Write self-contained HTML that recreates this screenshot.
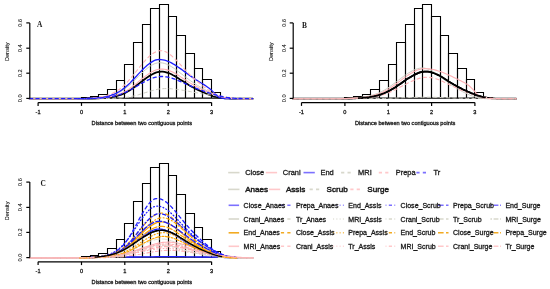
<!DOCTYPE html>
<html><head><meta charset="utf-8"><style>
html,body{margin:0;padding:0;background:#fff;}
svg{display:block;}
text{font-family:"Liberation Sans",Arial,sans-serif;fill:#1a1a1a;stroke:#1a1a1a;stroke-width:0.3px;}
.tk{font-size:5.63px;}
.rt{stroke-width:0.1px;}
.let{font-family:"Liberation Serif","Times New Roman",serif;font-weight:bold;font-size:7.4px;stroke:none;}
.t1{font-size:7.45px;}
.t2{font-size:8.1px;stroke-width:0.45px;}
.t3{font-size:7.03px;}
path,line{fill:none;stroke-linecap:round;}
.bar{fill:none;stroke:#000;stroke-width:1.1;stroke-linecap:butt;}
.ax{stroke:#000;stroke-width:1.2;stroke-linecap:butt;}
.bk{stroke:#000;stroke-width:1.75;}
.bk.thin{stroke-width:1.4;}
.bl{stroke:#1f1fff;stroke-width:1.3;}
.gy{stroke:#cdcdc2;stroke-width:1.0;}
.pk{stroke:#ffb0b4;stroke-width:1.1;}
.or{stroke:#ffa500;stroke-width:1.2;}
.gy.lt{stroke:#dadad0;stroke-width:0.9;}
.lg{stroke-linecap:butt;stroke-width:1.6;}
.lg.bl{stroke:#7c70ff;}
.lg.gy{stroke:#d8d8cc;}
.lg.pk{stroke:#ffc8ca;}
.lg.or{stroke:#f2aa22;}
.l2{stroke-dasharray:3.2 3.2;}
.l3{stroke-dasharray:0.8 2.4;}
.l4{stroke-dasharray:0.8 2.4 3.2 2.4;}
.l5{stroke-dasharray:5.6 2.4;}
.l6{stroke-dasharray:1.6 1.6 4.8 1.6;}
</style></head>
<body><svg width="550" height="289" viewBox="0 0 550 289">
<path d="M81.5 98.1V97.5H90.5V98.1" class="bar"/>
<path d="M90.5 98.1V96.5H98.5V98.1" class="bar"/>
<path d="M98.5 98.1V94.5H107.5V98.1" class="bar"/>
<path d="M107.5 98.1V89.5H116.5V98.1" class="bar"/>
<path d="M116.5 98.1V80.5H124.5V98.1" class="bar"/>
<path d="M124.5 98.1V64.5H133.5V98.1" class="bar"/>
<path d="M133.5 98.1V42.5H142.5V98.1" class="bar"/>
<path d="M142.5 98.1V24.5H150.5V98.1" class="bar"/>
<path d="M150.5 98.1V8.5H159.5V98.1" class="bar"/>
<path d="M159.5 98.1V4.5H168.5V98.1" class="bar"/>
<path d="M168.5 98.1V16.5H176.5V98.1" class="bar"/>
<path d="M176.5 98.1V35.5H185.5V98.1" class="bar"/>
<path d="M185.5 98.1V53.5H194.5V98.1" class="bar"/>
<path d="M194.5 98.1V68.5H202.5V98.1" class="bar"/>
<path d="M202.5 98.1V79.5H211.5V98.1" class="bar"/>
<path d="M211.5 98.1V92.5H220.5V98.1" class="bar"/>
<path d="M220.5 98.1V97.5H228.5V98.1" class="bar"/>
<line x1="90.5" y1="98.1" x2="228.5" y2="98.1" class="bar"/>
<path d="M29.5 98.7L31.2 98.7L32.9 98.7L34.7 98.7L36.4 98.7L38.1 98.7L39.9 98.7L41.6 98.7L43.3 98.7L45.1 98.7L46.8 98.7L48.5 98.7L50.2 98.7L52 98.7L53.7 98.7L55.4 98.7L57.2 98.7L58.9 98.7L60.6 98.7L62.4 98.7L64.1 98.7L65.8 98.7L67.6 98.7L69.3 98.7L71 98.7L72.7 98.7L74.5 98.7L76.2 98.7L77.9 98.7L79.7 98.7L81.4 98.7L83.1 98.7L84.9 98.7L86.6 98.7L88.3 98.6L90.1 98.6L91.8 98.6L93.5 98.5L95.2 98.5L97 98.4L98.7 98.3L100.4 98.2L102.2 98.1L103.9 98L105.6 97.8L107.4 97.7L109.1 97.4L110.8 97.2L112.6 96.9L114.3 96.6L116 96.2L117.7 95.7L119.5 95.2L121.2 94.6L122.9 93.9L124.7 93.1L126.4 92.3L128.1 91.3L129.9 90.3L131.6 89.1L133.3 87.9L135 86.7L136.8 85.3L138.5 84L140.2 82.6L142 81.3L143.7 80L145.4 78.7L147.2 77.4L148.9 76.3L150.6 75.2L152.4 74.2L154.1 73.4L155.8 72.7L157.5 72.2L159.3 71.8L161 71.7L162.7 71.7L164.5 71.9L166.2 72.3L167.9 72.8L169.7 73.5L171.4 74.3L173.1 75.2L174.9 76.1L176.6 77.2L178.3 78.3L180 79.4L181.8 80.5L183.5 81.6L185.2 82.7L187 83.8L188.7 84.9L190.4 85.9L192.2 86.9L193.9 87.8L195.6 88.7L197.4 89.6L199.1 90.4L200.8 91.2L202.5 92L204.3 92.8L206 93.5L207.7 94.2L209.5 94.9L211.2 95.5L212.9 96.1L214.7 96.6L216.4 97L218.1 97.4L219.9 97.7L221.6 97.9L223.3 98.1L225 98.3L226.8 98.4L228.5 98.5L230.2 98.6L232 98.6L233.7 98.6L235.4 98.7L237.2 98.7L238.9 98.7L240.6 98.7L242.3 98.7L244.1 98.7L245.8 98.7L247.5 98.7L249.3 98.7L251 98.7L252.7 98.7" class="bk"/>
<path d="M29.5 98.7L31.2 98.7L32.9 98.7L34.7 98.7L36.4 98.7L38.1 98.7L39.9 98.7L41.6 98.7L43.3 98.7L45.1 98.7L46.8 98.7L48.5 98.7L50.2 98.7L52 98.7L53.7 98.7L55.4 98.7L57.2 98.7L58.9 98.7L60.6 98.7L62.4 98.7L64.1 98.7L65.8 98.7L67.6 98.7L69.3 98.7L71 98.7L72.7 98.7L74.5 98.7L76.2 98.7L77.9 98.7L79.7 98.7L81.4 98.7L83.1 98.6L84.9 98.6L86.6 98.5L88.3 98.5L90.1 98.4L91.8 98.3L93.5 98.3L95.2 98.1L97 98L98.7 97.9L100.4 97.7L102.2 97.5L103.9 97.2L105.6 96.9L107.4 96.6L109.1 96.2L110.8 95.7L112.6 95.2L114.3 94.6L116 93.9L117.7 93.2L119.5 92.3L121.2 91.3L122.9 90.2L124.7 89L126.4 87.7L128.1 86.3L129.9 84.8L131.6 83.2L133.3 81.5L135 79.8L136.8 78.1L138.5 76.3L140.2 74.6L142 73L143.7 71.3L145.4 69.8L147.2 68.4L148.9 67L150.6 65.8L152.4 64.8L154.1 63.9L155.8 63.3L157.5 62.9L159.3 62.7L161 62.8L162.7 63L164.5 63.4L166.2 64L167.9 64.7L169.7 65.6L171.4 66.6L173.1 67.7L174.9 68.9L176.6 70.1L178.3 71.4L180 72.8L181.8 74.1L183.5 75.5L185.2 76.8L187 78.1L188.7 79.4L190.4 80.7L192.2 81.9L193.9 83L195.6 84.2L197.4 85.3L199.1 86.3L200.8 87.3L202.5 88.3L204.3 89.3L206 90.2L207.7 91.1L209.5 92L211.2 92.8L212.9 93.6L214.7 94.4L216.4 95.1L218.1 95.7L219.9 96.2L221.6 96.7L223.3 97.1L225 97.5L226.8 97.8L228.5 98L230.2 98.2L232 98.3L233.7 98.4L235.4 98.5L237.2 98.6L238.9 98.6L240.6 98.6L242.3 98.7L244.1 98.7L245.8 98.7L247.5 98.7L249.3 98.7L251 98.7L252.7 98.7" class="gy"/>
<path d="M29.5 98.7L31.2 98.7L32.9 98.7L34.7 98.7L36.4 98.7L38.1 98.7L39.9 98.7L41.6 98.7L43.3 98.7L45.1 98.7L46.8 98.7L48.5 98.7L50.2 98.7L52 98.7L53.7 98.7L55.4 98.7L57.2 98.7L58.9 98.7L60.6 98.7L62.4 98.7L64.1 98.7L65.8 98.7L67.6 98.7L69.3 98.7L71 98.7L72.7 98.7L74.5 98.7L76.2 98.7L77.9 98.7L79.7 98.7L81.4 98.7L83.1 98.7L84.9 98.6L86.6 98.6L88.3 98.6L90.1 98.5L91.8 98.5L93.5 98.4L95.2 98.3L97 98.2L98.7 98.1L100.4 98L102.2 97.8L103.9 97.7L105.6 97.5L107.4 97.2L109.1 96.9L110.8 96.6L112.6 96.3L114.3 95.8L116 95.3L117.7 94.8L119.5 94.1L121.2 93.4L122.9 92.6L124.7 91.7L126.4 90.7L128.1 89.6L129.9 88.5L131.6 87.2L133.3 85.9L135 84.5L136.8 83.1L138.5 81.7L140.2 80.3L142 78.9L143.7 77.5L145.4 76.1L147.2 74.9L148.9 73.7L150.6 72.6L152.4 71.6L154.1 70.7L155.8 70L157.5 69.5L159.3 69.2L161 69L162.7 69.1L164.5 69.3L166.2 69.6L167.9 70.1L169.7 70.7L171.4 71.5L173.1 72.3L174.9 73.3L176.6 74.3L178.3 75.3L180 76.4L181.8 77.6L183.5 78.7L185.2 79.8L187 81L188.7 82.1L190.4 83.1L192.2 84.2L193.9 85.2L195.6 86.1L197.4 87.1L199.1 88L200.8 88.9L202.5 89.7L204.3 90.5L206 91.3L207.7 92.1L209.5 92.8L211.2 93.6L212.9 94.3L214.7 94.9L216.4 95.5L218.1 96.1L219.9 96.5L221.6 97L223.3 97.3L225 97.6L226.8 97.9L228.5 98.1L230.2 98.2L232 98.4L233.7 98.5L235.4 98.5L237.2 98.6L238.9 98.6L240.6 98.7L242.3 98.7L244.1 98.7L245.8 98.7L247.5 98.7L249.3 98.7L251 98.7L252.7 98.7" class="pk"/>
<path d="M77.9 98.7L79.7 98.7L81.4 98.6L83.1 98.6L84.9 98.6L86.6 98.5L88.3 98.5L90.1 98.4L91.8 98.3L93.5 98.2L95.2 98.1L97 97.9L98.7 97.7L100.4 97.5L102.2 97.3L103.9 97L105.6 96.7L107.4 96.3L109.1 95.8L110.8 95.3L112.6 94.7L114.3 94.1L116 93.3L117.7 92.4L119.5 91.5L121.2 90.4L122.9 89.1L124.7 87.8L126.4 86.3L128.1 84.8L129.9 83.1L131.6 81.3L133.3 79.5L135 77.7L136.8 75.8L138.5 73.9L140.2 72.1L142 70.3L143.7 68.5L145.4 66.9L147.2 65.3L148.9 63.9L150.6 62.6L152.4 61.6L154.1 60.7L155.8 60L157.5 59.7L159.3 59.5L161 59.6L162.7 59.8L164.5 60.2L166.2 60.7L167.9 61.3L169.7 62L171.4 62.9L173.1 63.9L174.9 64.9L176.6 66L178.3 67.2L180 68.4L181.8 69.6L183.5 70.9L185.2 72.1L187 73.4L188.7 74.7L190.4 75.9L192.2 77.1L193.9 78.3L195.6 79.5L197.4 80.6L199.1 81.7L200.8 82.8L202.5 83.8L204.3 84.9L206 86L207.7 87.2L209.5 88.5L211.2 89.9L212.9 91.6L214.7 93.5L216.4 95.2L218.1 96.7L219.9 97.6L221.6 98.2L223.3 98.4L225 98.6L226.8 98.6L228.5 98.7L230.2 98.7L232 98.7L233.7 98.7L235.4 98.7L237.2 98.7L238.9 98.7L240.6 98.7" class="bl"/>
<path d="M29.5 98.7L31.2 98.7L32.9 98.7L34.7 98.7L36.4 98.7L38.1 98.7L39.9 98.7L41.6 98.7L43.3 98.7L45.1 98.7L46.8 98.7L48.5 98.7L50.2 98.7L52 98.7L53.7 98.7L55.4 98.7L57.2 98.7L58.9 98.7L60.6 98.7L62.4 98.7L64.1 98.7L65.8 98.7L67.6 98.7L69.3 98.7L71 98.7L72.7 98.7L74.5 98.7L76.2 98.7L77.9 98.7L79.7 98.7L81.4 98.7L83.1 98.7L84.9 98.7L86.6 98.7L88.3 98.7L90.1 98.7L91.8 98.7L93.5 98.7L95.2 98.7L97 98.7L98.7 98.7L100.4 98.7L102.2 98.6L103.9 98.6L105.6 98.6L107.4 98.5L109.1 98.5L110.8 98.5L112.6 98.4L114.3 98.3L116 98.2L117.7 98.1L119.5 98L121.2 97.9L122.9 97.7L124.7 97.5L126.4 97.3L128.1 97.1L129.9 96.8L131.6 96.4L133.3 96.1L135 95.7L136.8 95.2L138.5 94.7L140.2 94.2L142 93.7L143.7 93.2L145.4 92.6L147.2 92.1L148.9 91.5L150.6 91L152.4 90.5L154.1 90.1L155.8 89.7L157.5 89.3L159.3 89L161 88.8L162.7 88.7L164.5 88.6L166.2 88.6L167.9 88.7L169.7 88.7L171.4 88.8L173.1 89L174.9 89.2L176.6 89.4L178.3 89.6L180 89.8L181.8 90.1L183.5 90.4L185.2 90.7L187 91L188.7 91.3L190.4 91.6L192.2 92L193.9 92.3L195.6 92.6L197.4 92.9L199.1 93.2L200.8 93.5L202.5 93.8L204.3 94.1L206 94.4L207.7 94.6L209.5 94.9L211.2 95.1L212.9 95.4L214.7 95.6L216.4 95.8L218.1 96.1L219.9 96.3L221.6 96.5L223.3 96.7L225 96.9L226.8 97.1L228.5 97.3L230.2 97.5L232 97.6L233.7 97.8L235.4 97.9L237.2 98.1L238.9 98.2L240.6 98.3L242.3 98.3L244.1 98.4L245.8 98.5L247.5 98.5L249.3 98.6L251 98.6L252.7 98.6" class="gy l2"/>
<path d="M29.5 98.7L31.2 98.7L32.9 98.7L34.7 98.7L36.4 98.7L38.1 98.7L39.9 98.7L41.6 98.7L43.3 98.7L45.1 98.7L46.8 98.7L48.5 98.7L50.2 98.7L52 98.7L53.7 98.7L55.4 98.7L57.2 98.7L58.9 98.7L60.6 98.7L62.4 98.7L64.1 98.7L65.8 98.7L67.6 98.7L69.3 98.7L71 98.7L72.7 98.7L74.5 98.7L76.2 98.7L77.9 98.6L79.7 98.6L81.4 98.6L83.1 98.5L84.9 98.4L86.6 98.4L88.3 98.3L90.1 98.2L91.8 98L93.5 97.9L95.2 97.7L97 97.5L98.7 97.2L100.4 96.9L102.2 96.6L103.9 96.2L105.6 95.8L107.4 95.3L109.1 94.7L110.8 94.1L112.6 93.3L114.3 92.4L116 91.5L117.7 90.4L119.5 89.2L121.2 87.8L122.9 86.4L124.7 84.8L126.4 83L128.1 81.2L129.9 79.2L131.6 77.2L133.3 75L135 72.9L136.8 70.7L138.5 68.5L140.2 66.4L142 64.2L143.7 62.2L145.4 60.3L147.2 58.4L148.9 56.7L150.6 55.2L152.4 53.8L154.1 52.7L155.8 51.8L157.5 51.1L159.3 50.8L161 50.7L162.7 50.9L164.5 51.4L166.2 52.1L167.9 53.1L169.7 54.2L171.4 55.6L173.1 57.1L174.9 58.8L176.6 60.5L178.3 62.3L180 64.2L181.8 66.1L183.5 68L185.2 69.9L187 71.7L188.7 73.5L190.4 75.2L192.2 76.9L193.9 78.5L195.6 80.1L197.4 81.6L199.1 83L200.8 84.4L202.5 85.8L204.3 87.1L206 88.4L207.7 89.6L209.5 90.8L211.2 91.9L212.9 93L214.7 93.9L216.4 94.8L218.1 95.5L219.9 96.2L221.6 96.8L223.3 97.2L225 97.6L226.8 97.9L228.5 98.1L230.2 98.3L232 98.4L233.7 98.5L235.4 98.6L237.2 98.6L238.9 98.6L240.6 98.7L242.3 98.7L244.1 98.7L245.8 98.7L247.5 98.7L249.3 98.7L251 98.7L252.7 98.7" class="pk l2"/>
<path d="M29.5 98.7L31.2 98.7L32.9 98.7L34.7 98.7L36.4 98.7L38.1 98.7L39.9 98.7L41.6 98.7L43.3 98.7L45.1 98.7L46.8 98.7L48.5 98.7L50.2 98.7L52 98.7L53.7 98.7L55.4 98.7L57.2 98.7L58.9 98.7L60.6 98.7L62.4 98.7L64.1 98.7L65.8 98.7L67.6 98.7L69.3 98.7L71 98.7L72.7 98.7L74.5 98.7L76.2 98.7L77.9 98.7L79.7 98.7L81.4 98.6L83.1 98.6L84.9 98.6L86.6 98.6L88.3 98.5L90.1 98.5L91.8 98.4L93.5 98.4L95.2 98.3L97 98.2L98.7 98.1L100.4 98L102.2 97.8L103.9 97.6L105.6 97.5L107.4 97.2L109.1 97L110.8 96.7L112.6 96.4L114.3 96L116 95.6L117.7 95.1L119.5 94.6L121.2 94L122.9 93.3L124.7 92.6L126.4 91.9L128.1 91L129.9 90.1L131.6 89.2L133.3 88.2L135 87.3L136.8 86.2L138.5 85.2L140.2 84.2L142 83.2L143.7 82.3L145.4 81.4L147.2 80.5L148.9 79.7L150.6 78.9L152.4 78.2L154.1 77.6L155.8 77.2L157.5 76.8L159.3 76.6L161 76.5L162.7 76.5L164.5 76.6L166.2 76.9L167.9 77.2L169.7 77.6L171.4 78L173.1 78.6L174.9 79.2L176.6 79.8L178.3 80.6L180 81.3L181.8 82.1L183.5 82.8L185.2 83.6L187 84.4L188.7 85.2L190.4 85.9L192.2 86.7L193.9 87.4L195.6 88.1L197.4 88.8L199.1 89.5L200.8 90.1L202.5 90.7L204.3 91.3L206 91.9L207.7 92.5L209.5 93L211.2 93.6L212.9 94.1L214.7 94.6L216.4 95.1L218.1 95.5L219.9 96L221.6 96.4L223.3 96.8L225 97.1L226.8 97.4L228.5 97.6L230.2 97.8L232 98L233.7 98.2L235.4 98.3L237.2 98.4L238.9 98.5L240.6 98.5L242.3 98.6L244.1 98.6L245.8 98.6L247.5 98.7L249.3 98.7L251 98.7L252.7 98.7" class="bl l2"/>
<line x1="29.8" y1="98.4" x2="29.8" y2="22.9" class="ax"/>
<line x1="26.3" y1="98.4" x2="29.8" y2="98.4" class="ax"/>
<text transform="translate(22.4 98.4) rotate(-90)" class="tk rt" text-anchor="middle">0.0</text>
<line x1="26.3" y1="73.2" x2="29.8" y2="73.2" class="ax"/>
<text transform="translate(22.4 73.2) rotate(-90)" class="tk rt" text-anchor="middle">0.2</text>
<line x1="26.3" y1="48.2" x2="29.8" y2="48.2" class="ax"/>
<text transform="translate(22.4 48.2) rotate(-90)" class="tk rt" text-anchor="middle">0.4</text>
<line x1="26.3" y1="22.9" x2="29.8" y2="22.9" class="ax"/>
<text transform="translate(22.4 22.9) rotate(-90)" class="tk rt" text-anchor="middle">0.6</text>
<line x1="38.1" y1="102.6" x2="211.6" y2="102.6" class="ax"/>
<line x1="38.1" y1="102.6" x2="38.1" y2="105.9" class="ax"/>
<text x="38.1" y="113.8" class="tk" text-anchor="middle">-1</text>
<line x1="81.5" y1="102.6" x2="81.5" y2="105.9" class="ax"/>
<text x="81.5" y="113.8" class="tk" text-anchor="middle">0</text>
<line x1="124.8" y1="102.6" x2="124.8" y2="105.9" class="ax"/>
<text x="124.8" y="113.8" class="tk" text-anchor="middle">1</text>
<line x1="168.2" y1="102.6" x2="168.2" y2="105.9" class="ax"/>
<text x="168.2" y="113.8" class="tk" text-anchor="middle">2</text>
<line x1="211.6" y1="102.6" x2="211.6" y2="105.9" class="ax"/>
<text x="211.6" y="113.8" class="tk" text-anchor="middle">3</text>
<text x="141.8" y="125" class="tk" text-anchor="middle">Distance between two contiguous points</text>
<text transform="translate(9.3 51.7) rotate(-90)" class="tk rt" text-anchor="middle">Density</text>
<text x="37" y="26.8" class="let">A</text>
<path d="M344.5 98.1V97.5H353.5V98.1" class="bar"/>
<path d="M353.5 98.1V96.5H362.5V98.1" class="bar"/>
<path d="M362.5 98.1V94.5H370.5V98.1" class="bar"/>
<path d="M370.5 98.1V89.5H379.5V98.1" class="bar"/>
<path d="M379.5 98.1V80.5H388.5V98.1" class="bar"/>
<path d="M388.5 98.1V64.5H396.5V98.1" class="bar"/>
<path d="M396.5 98.1V42.5H405.5V98.1" class="bar"/>
<path d="M405.5 98.1V24.5H414.5V98.1" class="bar"/>
<path d="M414.5 98.1V8.5H422.5V98.1" class="bar"/>
<path d="M422.5 98.1V4.5H431.5V98.1" class="bar"/>
<path d="M431.5 98.1V16.5H440.5V98.1" class="bar"/>
<path d="M440.5 98.1V35.5H448.5V98.1" class="bar"/>
<path d="M448.5 98.1V53.5H457.5V98.1" class="bar"/>
<path d="M457.5 98.1V68.5H466.5V98.1" class="bar"/>
<path d="M466.5 98.1V79.5H474.5V98.1" class="bar"/>
<path d="M474.5 98.1V92.5H483.5V98.1" class="bar"/>
<path d="M483.5 98.1V97.5H492.5V98.1" class="bar"/>
<line x1="353.5" y1="98.1" x2="492.5" y2="98.1" class="bar"/>
<path d="M292.9 98.7L294.6 98.7L296.3 98.7L298.1 98.7L299.8 98.7L301.5 98.7L303.3 98.7L305 98.7L306.7 98.7L308.5 98.7L310.2 98.7L311.9 98.7L313.6 98.7L315.4 98.7L317.1 98.7L318.8 98.7L320.6 98.7L322.3 98.7L324 98.7L325.8 98.7L327.5 98.7L329.2 98.7L331 98.7L332.7 98.7L334.4 98.7L336.1 98.7L337.9 98.7L339.6 98.7L341.3 98.7L343.1 98.6L344.8 98.6L346.5 98.6L348.3 98.5L350 98.5L351.7 98.5L353.5 98.4L355.2 98.3L356.9 98.2L358.6 98.1L360.4 98L362.1 97.9L363.8 97.7L365.6 97.6L367.3 97.3L369 97.1L370.8 96.8L372.5 96.5L374.2 96.2L376 95.8L377.7 95.4L379.4 94.9L381.1 94.3L382.9 93.7L384.6 93L386.3 92.2L388.1 91.4L389.8 90.5L391.5 89.5L393.3 88.4L395 87.4L396.7 86.2L398.4 85L400.2 83.9L401.9 82.7L403.6 81.5L405.4 80.3L407.1 79.1L408.8 78L410.6 76.9L412.3 75.9L414 75L415.8 74.1L417.5 73.4L419.2 72.7L420.9 72.2L422.7 71.9L424.4 71.6L426.1 71.6L427.9 71.6L429.6 71.9L431.3 72.3L433.1 72.8L434.8 73.5L436.5 74.2L438.3 75.1L440 76L441.7 77L443.4 78.1L445.2 79.2L446.9 80.3L448.6 81.4L450.4 82.4L452.1 83.5L453.8 84.5L455.6 85.5L457.3 86.5L459 87.4L460.8 88.3L462.5 89.2L464.2 90L465.9 90.8L467.7 91.6L469.4 92.3L471.1 93.1L472.9 93.8L474.6 94.4L476.3 95.1L478.1 95.7L479.8 96.2L481.5 96.7L483.3 97.1L485 97.4L486.7 97.7L488.4 98L490.2 98.2L491.9 98.3L493.6 98.4L495.4 98.5L497.1 98.6L498.8 98.6L500.6 98.6L502.3 98.7L504 98.7L505.7 98.7L507.5 98.7L509.2 98.7L510.9 98.7L512.7 98.7L514.4 98.7L516.1 98.7" class="bk"/>
<path d="M292.9 98.7L294.6 98.7L296.3 98.7L298.1 98.7L299.8 98.7L301.5 98.7L303.3 98.7L305 98.7L306.7 98.7L308.5 98.7L310.2 98.7L311.9 98.7L313.6 98.7L315.4 98.7L317.1 98.7L318.8 98.7L320.6 98.7L322.3 98.7L324 98.7L325.8 98.7L327.5 98.7L329.2 98.7L331 98.7L332.7 98.7L334.4 98.7L336.1 98.7L337.9 98.6L339.6 98.6L341.3 98.6L343.1 98.5L344.8 98.5L346.5 98.4L348.3 98.4L350 98.3L351.7 98.2L353.5 98.1L355.2 98L356.9 97.8L358.6 97.6L360.4 97.5L362.1 97.2L363.8 97L365.6 96.7L367.3 96.4L369 96L370.8 95.6L372.5 95.1L374.2 94.6L376 94L377.7 93.4L379.4 92.6L381.1 91.8L382.9 90.9L384.6 90L386.3 88.9L388.1 87.8L389.8 86.6L391.5 85.4L393.3 84.1L395 82.8L396.7 81.5L398.4 80.2L400.2 78.9L401.9 77.6L403.6 76.3L405.4 75.1L407.1 73.9L408.8 72.8L410.6 71.8L412.3 70.8L414 70L415.8 69.3L417.5 68.7L419.2 68.3L420.9 68.1L422.7 68L424.4 68.1L426.1 68.5L427.9 69L429.6 69.7L431.3 70.5L433.1 71.6L434.8 72.7L436.5 73.9L438.3 75.2L440 76.5L441.7 77.9L443.4 79.2L445.2 80.5L446.9 81.8L448.6 83.1L450.4 84.3L452.1 85.5L453.8 86.6L455.6 87.6L457.3 88.7L459 89.7L460.8 90.6L462.5 91.6L464.2 92.5L465.9 93.3L467.7 94.1L469.4 94.9L471.1 95.6L472.9 96.2L474.6 96.7L476.3 97.2L478.1 97.6L479.8 97.9L481.5 98.1L483.3 98.3L485 98.4L486.7 98.5L488.4 98.6L490.2 98.6L491.9 98.7L493.6 98.7L495.4 98.7L497.1 98.7L498.8 98.7L500.6 98.7L502.3 98.7L504 98.7L505.7 98.7L507.5 98.7L509.2 98.7L510.9 98.7L512.7 98.7L514.4 98.7L516.1 98.7" class="gy"/>
<path d="M292.9 98.7L294.6 98.7L296.3 98.7L298.1 98.7L299.8 98.7L301.5 98.7L303.3 98.7L305 98.7L306.7 98.7L308.5 98.7L310.2 98.7L311.9 98.7L313.6 98.7L315.4 98.7L317.1 98.7L318.8 98.7L320.6 98.7L322.3 98.7L324 98.7L325.8 98.7L327.5 98.7L329.2 98.7L331 98.7L332.7 98.7L334.4 98.7L336.1 98.7L337.9 98.7L339.6 98.6L341.3 98.6L343.1 98.6L344.8 98.5L346.5 98.5L348.3 98.4L350 98.4L351.7 98.3L353.5 98.2L355.2 98.1L356.9 98L358.6 97.9L360.4 97.7L362.1 97.5L363.8 97.3L365.6 97.1L367.3 96.8L369 96.5L370.8 96.2L372.5 95.8L374.2 95.3L376 94.8L377.7 94.3L379.4 93.7L381.1 92.9L382.9 92.2L384.6 91.3L386.3 90.4L388.1 89.4L389.8 88.3L391.5 87.2L393.3 86L395 84.8L396.7 83.5L398.4 82.2L400.2 80.9L401.9 79.6L403.6 78.3L405.4 77.1L407.1 75.9L408.8 74.7L410.6 73.6L412.3 72.6L414 71.6L415.8 70.8L417.5 70.1L419.2 69.5L420.9 69L422.7 68.8L424.4 68.6L426.1 68.7L427.9 68.8L429.6 68.9L431.3 69.2L433.1 69.5L434.8 69.9L436.5 70.4L438.3 70.9L440 71.5L441.7 72.1L443.4 72.8L445.2 73.5L446.9 74.2L448.6 75L450.4 75.8L452.1 76.6L453.8 77.4L455.6 78.2L457.3 79.1L459 79.9L460.8 80.8L462.5 81.7L464.2 82.6L465.9 83.6L467.7 84.7L469.4 86L471.1 87.6L472.9 89.4L474.6 91.4L476.3 93.4L478.1 95.2L479.8 96.5L481.5 97.4L483.3 98L485 98.3L486.7 98.5L488.4 98.6L490.2 98.6L491.9 98.7L493.6 98.7L495.4 98.7L497.1 98.7L498.8 98.7L500.6 98.7L502.3 98.7L504 98.7L505.7 98.7L507.5 98.7L509.2 98.7L510.9 98.7L512.7 98.7L514.4 98.7L516.1 98.7" class="pk"/>
<path d="M292.9 98.7L294.6 98.7L296.3 98.7L298.1 98.7L299.8 98.7L301.5 98.7L303.3 98.7L305 98.7L306.7 98.7L308.5 98.7L310.2 98.7L311.9 98.7L313.6 98.7L315.4 98.7L317.1 98.7L318.8 98.7L320.6 98.7L322.3 98.7L324 98.7L325.8 98.7L327.5 98.7L329.2 98.7L331 98.7L332.7 98.7L334.4 98.7L336.1 98.7L337.9 98.7L339.6 98.7L341.3 98.7L343.1 98.7L344.8 98.7L346.5 98.7L348.3 98.7L350 98.7L351.7 98.7L353.5 98.7L355.2 98.7L356.9 98.7L358.6 98.7L360.4 98.7L362.1 98.7L363.8 98.6L365.6 98.6L367.3 98.6L369 98.6L370.8 98.6L372.5 98.6L374.2 98.6L376 98.5L377.7 98.5L379.4 98.5L381.1 98.5L382.9 98.4L384.6 98.4L386.3 98.3L388.1 98.3L389.8 98.2L391.5 98.2L393.3 98.1L395 98.1L396.7 98L398.4 97.9L400.2 97.9L401.9 97.8L403.6 97.7L405.4 97.6L407.1 97.6L408.8 97.5L410.6 97.5L412.3 97.4L414 97.4L415.8 97.3L417.5 97.3L419.2 97.2L420.9 97.2L422.7 97.2L424.4 97.2L426.1 97.2L427.9 97.2L429.6 97.2L431.3 97.3L433.1 97.3L434.8 97.3L436.5 97.4L438.3 97.4L440 97.5L441.7 97.6L443.4 97.6L445.2 97.7L446.9 97.7L448.6 97.8L450.4 97.9L452.1 97.9L453.8 98L455.6 98L457.3 98.1L459 98.1L460.8 98.2L462.5 98.2L464.2 98.3L465.9 98.3L467.7 98.4L469.4 98.4L471.1 98.4L472.9 98.5L474.6 98.5L476.3 98.6L478.1 98.6L479.8 98.6L481.5 98.6L483.3 98.6L485 98.7L486.7 98.7L488.4 98.7L490.2 98.7L491.9 98.7L493.6 98.7L495.4 98.7L497.1 98.7L498.8 98.7L500.6 98.7L502.3 98.7L504 98.7L505.7 98.7L507.5 98.7L509.2 98.7L510.9 98.7L512.7 98.7L514.4 98.7L516.1 98.7" class="gy l2"/>
<path d="M292.9 98.7L294.6 98.7L296.3 98.7L298.1 98.7L299.8 98.7L301.5 98.7L303.3 98.7L305 98.7L306.7 98.7L308.5 98.7L310.2 98.7L311.9 98.7L313.6 98.7L315.4 98.7L317.1 98.7L318.8 98.7L320.6 98.7L322.3 98.7L324 98.7L325.8 98.7L327.5 98.7L329.2 98.7L331 98.7L332.7 98.7L334.4 98.7L336.1 98.7L337.9 98.7L339.6 98.7L341.3 98.7L343.1 98.6L344.8 98.6L346.5 98.6L348.3 98.6L350 98.5L351.7 98.5L353.5 98.4L355.2 98.4L356.9 98.3L358.6 98.2L360.4 98.1L362.1 98L363.8 97.9L365.6 97.8L367.3 97.6L369 97.4L370.8 97.2L372.5 97L374.2 96.7L376 96.4L377.7 96L379.4 95.6L381.1 95.2L382.9 94.7L384.6 94.2L386.3 93.6L388.1 92.9L389.8 92.2L391.5 91.5L393.3 90.7L395 89.8L396.7 89L398.4 88.1L400.2 87.1L401.9 86.2L403.6 85.3L405.4 84.4L407.1 83.5L408.8 82.6L410.6 81.8L412.3 81L414 80.2L415.8 79.5L417.5 78.9L419.2 78.4L420.9 77.9L422.7 77.6L424.4 77.4L426.1 77.3L427.9 77.3L429.6 77.4L431.3 77.6L433.1 78L434.8 78.4L436.5 79L438.3 79.6L440 80.3L441.7 81L443.4 81.8L445.2 82.7L446.9 83.5L448.6 84.3L450.4 85.2L452.1 86L453.8 86.8L455.6 87.6L457.3 88.4L459 89.1L460.8 89.9L462.5 90.5L464.2 91.2L465.9 91.8L467.7 92.5L469.4 93.1L471.1 93.7L472.9 94.2L474.6 94.8L476.3 95.3L478.1 95.8L479.8 96.2L481.5 96.7L483.3 97L485 97.4L486.7 97.6L488.4 97.9L490.2 98.1L491.9 98.2L493.6 98.4L495.4 98.5L497.1 98.5L498.8 98.6L500.6 98.6L502.3 98.6L504 98.7L505.7 98.7L507.5 98.7L509.2 98.7L510.9 98.7L512.7 98.7L514.4 98.7L516.1 98.7" class="pk l2"/>
<path d="M358.6 98.1L360.4 98L362.1 97.9L363.8 97.7L365.6 97.6L367.3 97.3L369 97.1L370.8 96.8L372.5 96.5L374.2 96.2L376 95.8L377.7 95.4L379.4 94.9L381.1 94.3L382.9 93.7L384.6 93L386.3 92.2L388.1 91.4L389.8 90.5L391.5 89.5L393.3 88.4L395 87.4L396.7 86.2L398.4 85L400.2 83.9L401.9 82.7L403.6 81.5L405.4 80.3L407.1 79.1L408.8 78L410.6 76.9L412.3 75.9L414 75L415.8 74.1L417.5 73.4L419.2 72.7L420.9 72.2L422.7 71.9L424.4 71.6L426.1 71.6L427.9 71.6L429.6 71.9L431.3 72.3L433.1 72.8L434.8 73.5L436.5 74.2L438.3 75.1L440 76L441.7 77L443.4 78.1L445.2 79.2L446.9 80.3L448.6 81.4L450.4 82.4L452.1 83.5L453.8 84.5L455.6 85.5L457.3 86.5L459 87.4L460.8 88.3L462.5 89.2L464.2 90L465.9 90.8L467.7 91.6L469.4 92.3L471.1 93.1L472.9 93.8L474.6 94.4L476.3 95.1L478.1 95.7L479.8 96.2L481.5 96.7L483.3 97.1L485 97.4" class="bk"/>
<line x1="293.2" y1="98.4" x2="293.2" y2="22.9" class="ax"/>
<line x1="289.7" y1="98.4" x2="293.2" y2="98.4" class="ax"/>
<text transform="translate(285.8 98.4) rotate(-90)" class="tk rt" text-anchor="middle">0.0</text>
<line x1="289.7" y1="73.2" x2="293.2" y2="73.2" class="ax"/>
<text transform="translate(285.8 73.2) rotate(-90)" class="tk rt" text-anchor="middle">0.2</text>
<line x1="289.7" y1="48.2" x2="293.2" y2="48.2" class="ax"/>
<text transform="translate(285.8 48.2) rotate(-90)" class="tk rt" text-anchor="middle">0.4</text>
<line x1="289.7" y1="22.9" x2="293.2" y2="22.9" class="ax"/>
<text transform="translate(285.8 22.9) rotate(-90)" class="tk rt" text-anchor="middle">0.6</text>
<line x1="301.5" y1="102.6" x2="474.9" y2="102.6" class="ax"/>
<line x1="301.5" y1="102.6" x2="301.5" y2="105.9" class="ax"/>
<text x="301.5" y="113.8" class="tk" text-anchor="middle">-1</text>
<line x1="344.9" y1="102.6" x2="344.9" y2="105.9" class="ax"/>
<text x="344.9" y="113.8" class="tk" text-anchor="middle">0</text>
<line x1="388.2" y1="102.6" x2="388.2" y2="105.9" class="ax"/>
<text x="388.2" y="113.8" class="tk" text-anchor="middle">1</text>
<line x1="431.6" y1="102.6" x2="431.6" y2="105.9" class="ax"/>
<text x="431.6" y="113.8" class="tk" text-anchor="middle">2</text>
<line x1="474.9" y1="102.6" x2="474.9" y2="105.9" class="ax"/>
<text x="474.9" y="113.8" class="tk" text-anchor="middle">3</text>
<text x="405.2" y="125" class="tk" text-anchor="middle">Distance between two contiguous points</text>
<text transform="translate(272.7 51.7) rotate(-90)" class="tk rt" text-anchor="middle">Density</text>
<text x="302" y="27.7" class="let">B</text>
<path d="M81.5 257.3V256.5H90.5V257.3" class="bar"/>
<path d="M90.5 257.3V255.5H98.5V257.3" class="bar"/>
<path d="M98.5 257.3V253.5H107.5V257.3" class="bar"/>
<path d="M107.5 257.3V248.5H116.5V257.3" class="bar"/>
<path d="M116.5 257.3V239.5H124.5V257.3" class="bar"/>
<path d="M124.5 257.3V223.5H133.5V257.3" class="bar"/>
<path d="M133.5 257.3V201.5H142.5V257.3" class="bar"/>
<path d="M142.5 257.3V183.5H150.5V257.3" class="bar"/>
<path d="M150.5 257.3V167.5H159.5V257.3" class="bar"/>
<path d="M159.5 257.3V163.5H168.5V257.3" class="bar"/>
<path d="M168.5 257.3V175.5H176.5V257.3" class="bar"/>
<path d="M176.5 257.3V194.5H185.5V257.3" class="bar"/>
<path d="M185.5 257.3V213.5H194.5V257.3" class="bar"/>
<path d="M194.5 257.3V227.5H202.5V257.3" class="bar"/>
<path d="M202.5 257.3V239.5H211.5V257.3" class="bar"/>
<path d="M211.5 257.3V251.5H220.5V257.3" class="bar"/>
<path d="M220.5 257.3V256.5H228.5V257.3" class="bar"/>
<line x1="90.5" y1="257.3" x2="228.5" y2="257.3" class="bar"/>
<path d="M29.5 257.9L31.2 257.9L32.9 257.9L34.7 257.9L36.4 257.9L38.1 257.9L39.9 257.9L41.6 257.9L43.3 257.9L45.1 257.9L46.8 257.9L48.5 257.9L50.2 257.9L52 257.9L53.7 257.9L55.4 257.9L57.2 257.9L58.9 257.9L60.6 257.9L62.4 257.9L64.1 257.9L65.8 257.9L67.6 257.9L69.3 257.9L71 257.9L72.7 257.9L74.5 257.9L76.2 257.8L77.9 257.8L79.7 257.8L81.4 257.8L83.1 257.7L84.9 257.7L86.6 257.6L88.3 257.5L90.1 257.5L91.8 257.4L93.5 257.3L95.2 257.1L97 257L98.7 256.8L100.4 256.6L102.2 256.4L103.9 256.2L105.6 255.9L107.4 255.6L109.1 255.2L110.8 254.8L112.6 254.4L114.3 253.8L116 253.3L117.7 252.6L119.5 251.9L121.2 251.1L122.9 250.3L124.7 249.3L126.4 248.4L128.1 247.3L129.9 246.2L131.6 245.1L133.3 243.9L135 242.7L136.8 241.5L138.5 240.3L140.2 239.1L142 238L143.7 236.9L145.4 235.8L147.2 234.8L148.9 233.9L150.6 233L152.4 232.2L154.1 231.6L155.8 231L157.5 230.6L159.3 230.4L161 230.2L162.7 230.3L164.5 230.5L166.2 230.8L167.9 231.3L169.7 231.9L171.4 232.7L173.1 233.5L174.9 234.4L176.6 235.4L178.3 236.4L180 237.5L181.8 238.6L183.5 239.7L185.2 240.8L187 241.8L188.7 242.9L190.4 243.9L192.2 244.9L193.9 245.8L195.6 246.7L197.4 247.6L199.1 248.5L200.8 249.3L202.5 250.1L204.3 250.8L206 251.6L207.7 252.3L209.5 253L211.2 253.7L212.9 254.3L214.7 254.9L216.4 255.4L218.1 255.9L219.9 256.3L221.6 256.6L223.3 256.9L225 257.2L226.8 257.3L228.5 257.5L230.2 257.6L232 257.7L233.7 257.8L235.4 257.8L237.2 257.8L238.9 257.9L240.6 257.9L242.3 257.9L244.1 257.9L245.8 257.9L247.5 257.9L249.3 257.9L251 257.9L252.7 257.9" class="bk thin"/>
<path d="M79.7 257.9L81.4 257.8L83.1 257.8L84.9 257.8L86.6 257.7L88.3 257.7L90.1 257.6L91.8 257.5L93.5 257.4L95.2 257.3L97 257.2L98.7 257.1L100.4 256.9L102.2 256.7L103.9 256.5L105.6 256.2L107.4 255.9L109.1 255.6L110.8 255.2L112.6 254.7L114.3 254.2L116 253.6L117.7 252.9L119.5 252.2L121.2 251.3L122.9 250.4L124.7 249.4L126.4 248.3L128.1 247.2L129.9 245.9L131.6 244.6L133.3 243.3L135 242L136.8 240.6L138.5 239.3L140.2 238L142 236.7L143.7 235.4L145.4 234.3L147.2 233.2L148.9 232.2L150.6 231.3L152.4 230.5L154.1 229.9L155.8 229.5L157.5 229.2L159.3 229.1L161 229.2L162.7 229.5L164.5 229.9L166.2 230.5L167.9 231.2L169.7 232L171.4 232.9L173.1 234L174.9 235L176.6 236.2L178.3 237.3L180 238.5L181.8 239.7L183.5 240.8L185.2 242L187 243.1L188.7 244.1L190.4 245.1L192.2 246.1L193.9 247.1L195.6 248L197.4 248.9L199.1 249.7L200.8 250.5L202.5 251.4L204.3 252.1L206 252.9L207.7 253.6L209.5 254.3L211.2 254.9L212.9 255.4L214.7 255.9L216.4 256.3L218.1 256.7L219.9 257L221.6 257.2L223.3 257.4L225 257.5L226.8 257.6L228.5 257.7L230.2 257.8L232 257.8L233.7 257.9L235.4 257.9L237.2 257.9" class="bl"/>
<path d="M29.5 257.9L31.2 257.9L32.9 257.9L34.7 257.9L36.4 257.9L38.1 257.9L39.9 257.9L41.6 257.9L43.3 257.9L45.1 257.9L46.8 257.9L48.5 257.9L50.2 257.9L52 257.9L53.7 257.9L55.4 257.9L57.2 257.9L58.9 257.9L60.6 257.9L62.4 257.9L64.1 257.9L65.8 257.9L67.6 257.9L69.3 257.9L71 257.9L72.7 257.9L74.5 257.9L76.2 257.9L77.9 257.9L79.7 257.9L81.4 257.9L83.1 257.9L84.9 257.8L86.6 257.8L88.3 257.8L90.1 257.7L91.8 257.7L93.5 257.6L95.2 257.5L97 257.4L98.7 257.3L100.4 257.1L102.2 257L103.9 256.8L105.6 256.5L107.4 256.3L109.1 255.9L110.8 255.6L112.6 255.1L114.3 254.6L116 254L117.7 253.4L119.5 252.6L121.2 251.8L122.9 250.8L124.7 249.7L126.4 248.5L128.1 247.2L129.9 245.7L131.6 244.2L133.3 242.6L135 240.9L136.8 239.1L138.5 237.3L140.2 235.5L142 233.8L143.7 232L145.4 230.3L147.2 228.7L148.9 227.2L150.6 225.8L152.4 224.6L154.1 223.5L155.8 222.6L157.5 221.9L159.3 221.5L161 221.3L162.7 221.3L164.5 221.7L166.2 222.2L167.9 222.9L169.7 223.9L171.4 225L173.1 226.2L174.9 227.6L176.6 229L178.3 230.5L180 232.1L181.8 233.6L183.5 235.2L185.2 236.7L187 238.2L188.7 239.6L190.4 241L192.2 242.3L193.9 243.6L195.6 244.8L197.4 246L199.1 247.2L200.8 248.3L202.5 249.3L204.3 250.4L206 251.4L207.7 252.3L209.5 253.2L211.2 254L212.9 254.8L214.7 255.4L216.4 256L218.1 256.4L219.9 256.8L221.6 257.1L223.3 257.3L225 257.5L226.8 257.6L228.5 257.7L230.2 257.8L232 257.8L233.7 257.9L235.4 257.9L237.2 257.9L238.9 257.9L240.6 257.9L242.3 257.9L244.1 257.9L245.8 257.9L247.5 257.9L249.3 257.9L251 257.9L252.7 257.9" class="gy lt"/>
<path d="M79.7 257.9L81.4 257.8L83.1 257.8L84.9 257.8L86.6 257.7L88.3 257.7L90.1 257.6L91.8 257.5L93.5 257.4L95.2 257.3L97 257.2L98.7 257L100.4 256.8L102.2 256.6L103.9 256.4L105.6 256.1L107.4 255.8L109.1 255.4L110.8 254.9L112.6 254.5L114.3 253.9L116 253.2L117.7 252.5L119.5 251.7L121.2 250.7L122.9 249.7L124.7 248.6L126.4 247.3L128.1 246L129.9 244.6L131.6 243.1L133.3 241.5L135 239.9L136.8 238.2L138.5 236.5L140.2 234.9L142 233.2L143.7 231.6L145.4 230.1L147.2 228.6L148.9 227.2L150.6 226L152.4 224.9L154.1 223.9L155.8 223.1L157.5 222.5L159.3 222.1L161 221.9L162.7 222L164.5 222.2L166.2 222.7L167.9 223.4L169.7 224.2L171.4 225.2L173.1 226.3L174.9 227.5L176.6 228.9L178.3 230.2L180 231.7L181.8 233.1L183.5 234.6L185.2 236L187 237.4L188.7 238.8L190.4 240.1L192.2 241.4L193.9 242.6L195.6 243.8L197.4 245L199.1 246.1L200.8 247.2L202.5 248.2L204.3 249.2L206 250.2L207.7 251.1L209.5 252L211.2 252.9L212.9 253.7L214.7 254.4L216.4 255.1L218.1 255.6L219.9 256.1L221.6 256.5L223.3 256.9L225 257.1L226.8 257.3L228.5 257.5L230.2 257.6L232 257.7L233.7 257.8L235.4 257.8L237.2 257.8" class="or"/>
<path d="M29.5 257.9L31.2 257.9L32.9 257.9L34.7 257.9L36.4 257.9L38.1 257.9L39.9 257.9L41.6 257.9L43.3 257.9L45.1 257.9L46.8 257.9L48.5 257.9L50.2 257.9L52 257.9L53.7 257.9L55.4 257.9L57.2 257.9L58.9 257.9L60.6 257.9L62.4 257.9L64.1 257.9L65.8 257.9L67.6 257.9L69.3 257.9L71 257.9L72.7 257.9L74.5 257.9L76.2 257.9L77.9 257.8L79.7 257.8L81.4 257.8L83.1 257.8L84.9 257.8L86.6 257.7L88.3 257.7L90.1 257.6L91.8 257.6L93.5 257.5L95.2 257.5L97 257.4L98.7 257.3L100.4 257.2L102.2 257.1L103.9 257L105.6 256.9L107.4 256.7L109.1 256.6L110.8 256.4L112.6 256.2L114.3 255.9L116 255.6L117.7 255.4L119.5 255L121.2 254.7L122.9 254.3L124.7 253.9L126.4 253.4L128.1 252.9L129.9 252.4L131.6 251.9L133.3 251.3L135 250.7L136.8 250.1L138.5 249.5L140.2 248.8L142 248.2L143.7 247.6L145.4 247L147.2 246.4L148.9 245.8L150.6 245.3L152.4 244.7L154.1 244.2L155.8 243.8L157.5 243.4L159.3 243L161 242.7L162.7 242.4L164.5 242.3L166.2 242.2L167.9 242.1L169.7 242.1L171.4 242.2L173.1 242.4L174.9 242.6L176.6 242.9L178.3 243.2L180 243.6L181.8 244.1L183.5 244.5L185.2 245L187 245.5L188.7 246L190.4 246.6L192.2 247.1L193.9 247.7L195.6 248.2L197.4 248.7L199.1 249.2L200.8 249.8L202.5 250.2L204.3 250.7L206 251.2L207.7 251.6L209.5 252.1L211.2 252.5L212.9 252.9L214.7 253.3L216.4 253.7L218.1 254.1L219.9 254.4L221.6 254.8L223.3 255.1L225 255.5L226.8 255.8L228.5 256.1L230.2 256.3L232 256.6L233.7 256.8L235.4 257L237.2 257.2L238.9 257.3L240.6 257.4L242.3 257.5L244.1 257.6L245.8 257.7L247.5 257.7L249.3 257.8L251 257.8L252.7 257.8" class="pk"/>
<path d="M79.7 257.9L81.4 257.9L83.1 257.9L84.9 257.9L86.6 257.8L88.3 257.8L90.1 257.7L91.8 257.7L93.5 257.6L95.2 257.4L97 257.3L98.7 257.1L100.4 256.9L102.2 256.6L103.9 256.3L105.6 255.9L107.4 255.5L109.1 254.9L110.8 254.3L112.6 253.5L114.3 252.6L116 251.6L117.7 250.4L119.5 249L121.2 247.4L122.9 245.6L124.7 243.5L126.4 241.2L128.1 238.7L129.9 236L131.6 233.1L133.3 230L135 226.9L136.8 223.7L138.5 220.5L140.2 217.3L142 214.2L143.7 211.3L145.4 208.6L147.2 206L148.9 203.8L150.6 201.8L152.4 200.3L154.1 199.2L155.8 198.6L157.5 198.5L159.3 198.7L161 199.2L162.7 199.9L164.5 200.9L166.2 202.1L167.9 203.6L169.7 205.2L171.4 206.9L173.1 208.8L174.9 210.8L176.6 212.8L178.3 214.9L180 217.1L181.8 219.2L183.5 221.3L185.2 223.4L187 225.5L188.7 227.4L190.4 229.4L192.2 231.2L193.9 233L195.6 234.8L197.4 236.5L199.1 238.1L200.8 239.7L202.5 241.2L204.3 242.7L206 244.2L207.7 245.6L209.5 247L211.2 248.3L212.9 249.6L214.7 250.8L216.4 251.8L218.1 252.8L219.9 253.7L221.6 254.5L223.3 255.2L225 255.7L226.8 256.2L228.5 256.6L230.2 256.9L232 257.2L233.7 257.4L235.4 257.5L237.2 257.6" class="bl l2"/>
<path d="M29.5 257.9L31.2 257.9L32.9 257.9L34.7 257.9L36.4 257.9L38.1 257.9L39.9 257.9L41.6 257.9L43.3 257.9L45.1 257.9L46.8 257.9L48.5 257.9L50.2 257.9L52 257.9L53.7 257.9L55.4 257.9L57.2 257.9L58.9 257.9L60.6 257.9L62.4 257.9L64.1 257.9L65.8 257.9L67.6 257.9L69.3 257.9L71 257.9L72.7 257.9L74.5 257.9L76.2 257.9L77.9 257.9L79.7 257.9L81.4 257.9L83.1 257.9L84.9 257.8L86.6 257.8L88.3 257.8L90.1 257.7L91.8 257.7L93.5 257.6L95.2 257.5L97 257.4L98.7 257.3L100.4 257.1L102.2 257L103.9 256.8L105.6 256.6L107.4 256.3L109.1 256L110.8 255.7L112.6 255.3L114.3 254.8L116 254.3L117.7 253.7L119.5 253L121.2 252.2L122.9 251.4L124.7 250.4L126.4 249.3L128.1 248.2L129.9 246.9L131.6 245.6L133.3 244.2L135 242.8L136.8 241.3L138.5 239.7L140.2 238.2L142 236.7L143.7 235.3L145.4 233.9L147.2 232.5L148.9 231.3L150.6 230.1L152.4 229.1L154.1 228.2L155.8 227.4L157.5 226.8L159.3 226.5L161 226.3L162.7 226.4L164.5 226.6L166.2 227.1L167.9 227.7L169.7 228.5L171.4 229.4L173.1 230.4L174.9 231.6L176.6 232.8L178.3 234L180 235.3L181.8 236.6L183.5 238L185.2 239.2L187 240.5L188.7 241.7L190.4 242.9L192.2 244.1L193.9 245.2L195.6 246.2L197.4 247.2L199.1 248.2L200.8 249.1L202.5 250.1L204.3 251L206 251.8L207.7 252.6L209.5 253.4L211.2 254.1L212.9 254.8L214.7 255.4L216.4 255.9L218.1 256.3L219.9 256.7L221.6 257L223.3 257.2L225 257.4L226.8 257.6L228.5 257.7L230.2 257.7L232 257.8L233.7 257.8L235.4 257.9L237.2 257.9L238.9 257.9L240.6 257.9L242.3 257.9L244.1 257.9L245.8 257.9L247.5 257.9L249.3 257.9L251 257.9L252.7 257.9" class="gy l2 lt"/>
<path d="M79.7 257.9L81.4 257.8L83.1 257.8L84.9 257.8L86.6 257.7L88.3 257.6L90.1 257.6L91.8 257.5L93.5 257.4L95.2 257.2L97 257.1L98.7 256.9L100.4 256.7L102.2 256.4L103.9 256.1L105.6 255.8L107.4 255.4L109.1 254.9L110.8 254.4L112.6 253.8L114.3 253.1L116 252.3L117.7 251.4L119.5 250.4L121.2 249.3L122.9 248L124.7 246.6L126.4 245.1L128.1 243.4L129.9 241.6L131.6 239.8L133.3 237.8L135 235.7L136.8 233.7L138.5 231.6L140.2 229.5L142 227.4L143.7 225.4L145.4 223.4L147.2 221.6L148.9 219.8L150.6 218.2L152.4 216.8L154.1 215.6L155.8 214.5L157.5 213.8L159.3 213.3L161 213.1L162.7 213.1L164.5 213.5L166.2 214.1L167.9 214.9L169.7 216L171.4 217.2L173.1 218.7L174.9 220.2L176.6 221.9L178.3 223.6L180 225.4L181.8 227.3L183.5 229.1L185.2 230.9L187 232.7L188.7 234.4L190.4 236L192.2 237.6L193.9 239.2L195.6 240.7L197.4 242.1L199.1 243.5L200.8 244.8L202.5 246.1L204.3 247.4L206 248.6L207.7 249.8L209.5 250.9L211.2 252L212.9 252.9L214.7 253.8L216.4 254.6L218.1 255.3L219.9 255.9L221.6 256.3L223.3 256.7L225 257L226.8 257.3L228.5 257.5L230.2 257.6L232 257.7L233.7 257.8L235.4 257.8L237.2 257.8" class="or l2"/>
<path d="M29.5 257.9L31.2 257.9L32.9 257.9L34.7 257.9L36.4 257.9L38.1 257.9L39.9 257.9L41.6 257.9L43.3 257.9L45.1 257.9L46.8 257.9L48.5 257.9L50.2 257.9L52 257.9L53.7 257.9L55.4 257.9L57.2 257.9L58.9 257.9L60.6 257.9L62.4 257.9L64.1 257.9L65.8 257.9L67.6 257.9L69.3 257.9L71 257.9L72.7 257.9L74.5 257.9L76.2 257.9L77.9 257.8L79.7 257.8L81.4 257.8L83.1 257.8L84.9 257.8L86.6 257.7L88.3 257.7L90.1 257.6L91.8 257.6L93.5 257.6L95.2 257.5L97 257.4L98.7 257.3L100.4 257.3L102.2 257.2L103.9 257.1L105.6 256.9L107.4 256.8L109.1 256.6L110.8 256.5L112.6 256.3L114.3 256L116 255.8L117.7 255.5L119.5 255.2L121.2 254.9L122.9 254.6L124.7 254.2L126.4 253.8L128.1 253.4L129.9 252.9L131.6 252.5L133.3 252L135 251.5L136.8 251L138.5 250.5L140.2 250L142 249.5L143.7 249L145.4 248.6L147.2 248.1L148.9 247.7L150.6 247.3L152.4 246.9L154.1 246.5L155.8 246.2L157.5 245.9L159.3 245.7L161 245.5L162.7 245.4L164.5 245.3L166.2 245.3L167.9 245.3L169.7 245.4L171.4 245.5L173.1 245.7L174.9 246L176.6 246.2L178.3 246.6L180 246.9L181.8 247.3L183.5 247.7L185.2 248.1L187 248.5L188.7 248.9L190.4 249.4L192.2 249.8L193.9 250.2L195.6 250.7L197.4 251.1L199.1 251.5L200.8 251.9L202.5 252.2L204.3 252.6L206 253L207.7 253.3L209.5 253.6L211.2 254L212.9 254.3L214.7 254.6L216.4 254.9L218.1 255.2L219.9 255.5L221.6 255.7L223.3 256L225 256.3L226.8 256.5L228.5 256.7L230.2 256.9L232 257.1L233.7 257.2L235.4 257.3L237.2 257.5L238.9 257.6L240.6 257.6L242.3 257.7L244.1 257.7L245.8 257.8L247.5 257.8L249.3 257.8L251 257.9L252.7 257.9" class="pk l2"/>
<path d="M79.7 257.9L81.4 257.9L83.1 257.8L84.9 257.8L86.6 257.7L88.3 257.7L90.1 257.6L91.8 257.5L93.5 257.3L95.2 257.2L97 257L98.7 256.8L100.4 256.5L102.2 256.2L103.9 255.9L105.6 255.4L107.4 254.9L109.1 254.3L110.8 253.7L112.6 252.9L114.3 252L116 250.9L117.7 249.7L119.5 248.3L121.2 246.8L122.9 245.1L124.7 243.2L126.4 241.1L128.1 238.9L129.9 236.5L131.6 234L133.3 231.4L135 228.8L136.8 226.1L138.5 223.5L140.2 221L142 218.5L143.7 216.2L145.4 214L147.2 212L148.9 210.2L150.6 208.7L152.4 207.5L154.1 206.7L155.8 206.2L157.5 206.1L159.3 206.3L161 206.7L162.7 207.3L164.5 208.2L166.2 209.2L167.9 210.5L169.7 211.9L171.4 213.4L173.1 215.1L174.9 216.8L176.6 218.6L178.3 220.4L180 222.3L181.8 224.1L183.5 226L185.2 227.8L187 229.6L188.7 231.3L190.4 233L192.2 234.6L193.9 236.2L195.6 237.7L197.4 239.2L199.1 240.6L200.8 242L202.5 243.4L204.3 244.7L206 246L207.7 247.2L209.5 248.4L211.2 249.5L212.9 250.6L214.7 251.7L216.4 252.6L218.1 253.5L219.9 254.3L221.6 254.9L223.3 255.5L225 256L226.8 256.4L228.5 256.8L230.2 257L232 257.3L233.7 257.4L235.4 257.6L237.2 257.7" class="bl l3"/>
<path d="M29.5 257.9L31.2 257.9L32.9 257.9L34.7 257.9L36.4 257.9L38.1 257.9L39.9 257.9L41.6 257.9L43.3 257.9L45.1 257.9L46.8 257.9L48.5 257.9L50.2 257.9L52 257.9L53.7 257.9L55.4 257.9L57.2 257.9L58.9 257.9L60.6 257.9L62.4 257.9L64.1 257.9L65.8 257.9L67.6 257.9L69.3 257.9L71 257.9L72.7 257.9L74.5 257.9L76.2 257.9L77.9 257.9L79.7 257.9L81.4 257.9L83.1 257.9L84.9 257.9L86.6 257.9L88.3 257.8L90.1 257.8L91.8 257.8L93.5 257.7L95.2 257.7L97 257.6L98.7 257.5L100.4 257.4L102.2 257.3L103.9 257.2L105.6 257L107.4 256.9L109.1 256.7L110.8 256.4L112.6 256.2L114.3 255.9L116 255.5L117.7 255.1L119.5 254.6L121.2 254.1L122.9 253.5L124.7 252.8L126.4 252.1L128.1 251.3L129.9 250.4L131.6 249.4L133.3 248.3L135 247.2L136.8 246.1L138.5 244.9L140.2 243.7L142 242.5L143.7 241.3L145.4 240.1L147.2 238.9L148.9 237.8L150.6 236.8L152.4 235.9L154.1 235L155.8 234.2L157.5 233.6L159.3 233.1L161 232.8L162.7 232.6L164.5 232.6L166.2 232.8L167.9 233.1L169.7 233.6L171.4 234.2L173.1 234.9L174.9 235.7L176.6 236.6L178.3 237.5L180 238.5L181.8 239.6L183.5 240.6L185.2 241.7L187 242.7L188.7 243.7L190.4 244.7L192.2 245.7L193.9 246.6L195.6 247.5L197.4 248.3L199.1 249.1L200.8 249.9L202.5 250.7L204.3 251.4L206 252.2L207.7 252.9L209.5 253.5L211.2 254.2L212.9 254.8L214.7 255.3L216.4 255.8L218.1 256.2L219.9 256.6L221.6 256.9L223.3 257.1L225 257.3L226.8 257.5L228.5 257.6L230.2 257.7L232 257.8L233.7 257.8L235.4 257.8L237.2 257.9L238.9 257.9L240.6 257.9L242.3 257.9L244.1 257.9L245.8 257.9L247.5 257.9L249.3 257.9L251 257.9L252.7 257.9" class="gy l3 lt"/>
<path d="M79.7 257.9L81.4 257.9L83.1 257.8L84.9 257.8L86.6 257.8L88.3 257.8L90.1 257.7L91.8 257.7L93.5 257.6L95.2 257.5L97 257.4L98.7 257.3L100.4 257.2L102.2 257.1L103.9 256.9L105.6 256.8L107.4 256.5L109.1 256.3L110.8 256L112.6 255.7L114.3 255.4L116 254.9L117.7 254.5L119.5 254L121.2 253.4L122.9 252.7L124.7 252L126.4 251.2L128.1 250.3L129.9 249.4L131.6 248.4L133.3 247.4L135 246.3L136.8 245.2L138.5 244L140.2 242.9L142 241.7L143.7 240.6L145.4 239.5L147.2 238.4L148.9 237.4L150.6 236.5L152.4 235.6L154.1 234.8L155.8 234.1L157.5 233.5L159.3 233.1L161 232.8L162.7 232.6L164.5 232.6L166.2 232.8L167.9 233.1L169.7 233.5L171.4 234L173.1 234.7L174.9 235.4L176.6 236.2L178.3 237.1L180 238L181.8 239L183.5 240L185.2 241L187 242L188.7 243L190.4 243.9L192.2 244.9L193.9 245.8L195.6 246.6L197.4 247.5L199.1 248.3L200.8 249.1L202.5 249.8L204.3 250.6L206 251.3L207.7 252L209.5 252.6L211.2 253.3L212.9 253.9L214.7 254.5L216.4 255L218.1 255.5L219.9 255.9L221.6 256.3L223.3 256.7L225 256.9L226.8 257.2L228.5 257.4L230.2 257.5L232 257.6L233.7 257.7L235.4 257.8L237.2 257.8" class="or l3"/>
<path d="M29.5 257.9L31.2 257.9L32.9 257.9L34.7 257.9L36.4 257.9L38.1 257.9L39.9 257.9L41.6 257.9L43.3 257.9L45.1 257.9L46.8 257.9L48.5 257.9L50.2 257.9L52 257.9L53.7 257.9L55.4 257.9L57.2 257.9L58.9 257.9L60.6 257.9L62.4 257.9L64.1 257.9L65.8 257.9L67.6 257.9L69.3 257.9L71 257.9L72.7 257.9L74.5 257.9L76.2 257.9L77.9 257.9L79.7 257.8L81.4 257.8L83.1 257.8L84.9 257.8L86.6 257.8L88.3 257.7L90.1 257.7L91.8 257.7L93.5 257.6L95.2 257.6L97 257.5L98.7 257.5L100.4 257.4L102.2 257.3L103.9 257.3L105.6 257.2L107.4 257.1L109.1 256.9L110.8 256.8L112.6 256.7L114.3 256.5L116 256.3L117.7 256.1L119.5 255.9L121.2 255.7L122.9 255.4L124.7 255.1L126.4 254.8L128.1 254.5L129.9 254.2L131.6 253.8L133.3 253.5L135 253.1L136.8 252.7L138.5 252.4L140.2 252L142 251.6L143.7 251.3L145.4 250.9L147.2 250.6L148.9 250.2L150.6 249.9L152.4 249.6L154.1 249.4L155.8 249.1L157.5 248.9L159.3 248.7L161 248.6L162.7 248.5L164.5 248.4L166.2 248.4L167.9 248.5L169.7 248.5L171.4 248.6L173.1 248.8L174.9 249L176.6 249.2L178.3 249.4L180 249.7L181.8 249.9L183.5 250.2L185.2 250.5L187 250.9L188.7 251.2L190.4 251.5L192.2 251.8L193.9 252.2L195.6 252.5L197.4 252.8L199.1 253.1L200.8 253.4L202.5 253.7L204.3 253.9L206 254.2L207.7 254.5L209.5 254.7L211.2 255L212.9 255.2L214.7 255.4L216.4 255.6L218.1 255.9L219.9 256.1L221.6 256.3L223.3 256.5L225 256.7L226.8 256.8L228.5 257L230.2 257.1L232 257.3L233.7 257.4L235.4 257.5L237.2 257.6L238.9 257.6L240.6 257.7L242.3 257.7L244.1 257.8L245.8 257.8L247.5 257.8L249.3 257.9L251 257.9L252.7 257.9" class="pk l3"/>
<path d="M79.7 257.9L81.4 257.9L83.1 257.9L84.9 257.8L86.6 257.8L88.3 257.8L90.1 257.7L91.8 257.6L93.5 257.6L95.2 257.5L97 257.3L98.7 257.2L100.4 257L102.2 256.8L103.9 256.5L105.6 256.2L107.4 255.9L109.1 255.5L110.8 255L112.6 254.4L114.3 253.8L116 253L117.7 252.2L119.5 251.2L121.2 250L122.9 248.8L124.7 247.3L126.4 245.8L128.1 244L129.9 242.1L131.6 240.1L133.3 238L135 235.8L136.8 233.6L138.5 231.4L140.2 229.1L142 226.9L143.7 224.8L145.4 222.8L147.2 220.9L148.9 219.1L150.6 217.6L152.4 216.2L154.1 215.1L155.8 214.3L157.5 213.8L159.3 213.7L161 213.8L162.7 214.1L164.5 214.6L166.2 215.2L167.9 216.1L169.7 217.1L171.4 218.2L173.1 219.4L174.9 220.8L176.6 222.2L178.3 223.7L180 225.2L181.8 226.7L183.5 228.3L185.2 229.8L187 231.4L188.7 232.9L190.4 234.4L192.2 235.8L193.9 237.2L195.6 238.6L197.4 239.9L199.1 241.1L200.8 242.3L202.5 243.5L204.3 244.7L206 245.8L207.7 246.9L209.5 247.9L211.2 249L212.9 250L214.7 250.9L216.4 251.8L218.1 252.7L219.9 253.5L221.6 254.2L223.3 254.8L225 255.4L226.8 255.9L228.5 256.3L230.2 256.7L232 256.9L233.7 257.2L235.4 257.4L237.2 257.5" class="bl l4"/>
<path d="M29.5 257.9L31.2 257.9L32.9 257.9L34.7 257.9L36.4 257.9L38.1 257.9L39.9 257.9L41.6 257.9L43.3 257.9L45.1 257.9L46.8 257.9L48.5 257.9L50.2 257.9L52 257.9L53.7 257.9L55.4 257.9L57.2 257.9L58.9 257.9L60.6 257.9L62.4 257.9L64.1 257.9L65.8 257.9L67.6 257.9L69.3 257.9L71 257.9L72.7 257.9L74.5 257.9L76.2 257.9L77.9 257.9L79.7 257.9L81.4 257.9L83.1 257.9L84.9 257.8L86.6 257.8L88.3 257.8L90.1 257.7L91.8 257.7L93.5 257.6L95.2 257.5L97 257.5L98.7 257.4L100.4 257.2L102.2 257.1L103.9 256.9L105.6 256.7L107.4 256.5L109.1 256.2L110.8 255.9L112.6 255.6L114.3 255.2L116 254.7L117.7 254.2L119.5 253.6L121.2 252.9L122.9 252.1L124.7 251.3L126.4 250.4L128.1 249.4L129.9 248.3L131.6 247.1L133.3 245.8L135 244.6L136.8 243.3L138.5 241.9L140.2 240.6L142 239.3L143.7 238L145.4 236.8L147.2 235.6L148.9 234.5L150.6 233.4L152.4 232.5L154.1 231.7L155.8 231.1L157.5 230.6L159.3 230.3L161 230.1L162.7 230.2L164.5 230.4L166.2 230.8L167.9 231.3L169.7 232L171.4 232.8L173.1 233.7L174.9 234.7L176.6 235.8L178.3 236.9L180 238L181.8 239.2L183.5 240.3L185.2 241.5L187 242.6L188.7 243.7L190.4 244.7L192.2 245.7L193.9 246.7L195.6 247.6L197.4 248.5L199.1 249.4L200.8 250.2L202.5 251L204.3 251.8L206 252.5L207.7 253.3L209.5 254L211.2 254.6L212.9 255.2L214.7 255.7L216.4 256.2L218.1 256.5L219.9 256.9L221.6 257.1L223.3 257.3L225 257.5L226.8 257.6L228.5 257.7L230.2 257.8L232 257.8L233.7 257.8L235.4 257.9L237.2 257.9L238.9 257.9L240.6 257.9L242.3 257.9L244.1 257.9L245.8 257.9L247.5 257.9L249.3 257.9L251 257.9L252.7 257.9" class="gy l4 lt"/>
<path d="M79.7 257.8L81.4 257.8L83.1 257.8L84.9 257.8L86.6 257.7L88.3 257.6L90.1 257.6L91.8 257.5L93.5 257.4L95.2 257.2L97 257.1L98.7 256.9L100.4 256.7L102.2 256.5L103.9 256.2L105.6 255.9L107.4 255.6L109.1 255.1L110.8 254.7L112.6 254.2L114.3 253.5L116 252.9L117.7 252.1L119.5 251.2L121.2 250.2L122.9 249.1L124.7 247.9L126.4 246.6L128.1 245.2L129.9 243.6L131.6 242L133.3 240.3L135 238.6L136.8 236.8L138.5 234.9L140.2 233.1L142 231.3L143.7 229.5L145.4 227.8L147.2 226.1L148.9 224.6L150.6 223.1L152.4 221.8L154.1 220.6L155.8 219.6L157.5 218.8L159.3 218.2L161 217.8L162.7 217.7L164.5 217.9L166.2 218.2L167.9 218.7L169.7 219.5L171.4 220.4L173.1 221.5L174.9 222.8L176.6 224.1L178.3 225.6L180 227.1L181.8 228.7L183.5 230.2L185.2 231.8L187 233.4L188.7 234.9L190.4 236.5L192.2 237.9L193.9 239.3L195.6 240.7L197.4 242L199.1 243.3L200.8 244.5L202.5 245.7L204.3 246.8L206 247.9L207.7 249L209.5 250L211.2 251L212.9 252L214.7 252.9L216.4 253.7L218.1 254.5L219.9 255.1L221.6 255.7L223.3 256.2L225 256.6L226.8 256.9L228.5 257.2L230.2 257.4L232 257.5L233.7 257.6L235.4 257.7L237.2 257.8" class="or l4"/>
<path d="M29.5 257.9L31.2 257.9L32.9 257.9L34.7 257.9L36.4 257.9L38.1 257.9L39.9 257.9L41.6 257.9L43.3 257.9L45.1 257.9L46.8 257.9L48.5 257.9L50.2 257.9L52 257.9L53.7 257.9L55.4 257.9L57.2 257.9L58.9 257.9L60.6 257.9L62.4 257.9L64.1 257.9L65.8 257.9L67.6 257.9L69.3 257.9L71 257.9L72.7 257.9L74.5 257.9L76.2 257.9L77.9 257.9L79.7 257.9L81.4 257.9L83.1 257.9L84.9 257.9L86.6 257.9L88.3 257.8L90.1 257.8L91.8 257.8L93.5 257.8L95.2 257.8L97 257.8L98.7 257.7L100.4 257.7L102.2 257.7L103.9 257.6L105.6 257.6L107.4 257.5L109.1 257.5L110.8 257.4L112.6 257.3L114.3 257.2L116 257.1L117.7 257L119.5 256.9L121.2 256.8L122.9 256.6L124.7 256.4L126.4 256.2L128.1 256L129.9 255.8L131.6 255.6L133.3 255.3L135 255L136.8 254.8L138.5 254.5L140.2 254.2L142 253.8L143.7 253.5L145.4 253.2L147.2 252.9L148.9 252.6L150.6 252.3L152.4 252L154.1 251.7L155.8 251.5L157.5 251.2L159.3 251L161 250.8L162.7 250.7L164.5 250.5L166.2 250.4L167.9 250.4L169.7 250.3L171.4 250.3L173.1 250.4L174.9 250.5L176.6 250.6L178.3 250.7L180 250.9L181.8 251.1L183.5 251.3L185.2 251.5L187 251.8L188.7 252L190.4 252.3L192.2 252.6L193.9 252.8L195.6 253.1L197.4 253.4L199.1 253.6L200.8 253.9L202.5 254.1L204.3 254.4L206 254.6L207.7 254.8L209.5 255.1L211.2 255.3L212.9 255.5L214.7 255.7L216.4 255.9L218.1 256.1L219.9 256.2L221.6 256.4L223.3 256.6L225 256.8L226.8 256.9L228.5 257.1L230.2 257.2L232 257.3L233.7 257.4L235.4 257.5L237.2 257.6L238.9 257.7L240.6 257.7L242.3 257.8L244.1 257.8L245.8 257.8L247.5 257.8L249.3 257.9L251 257.9L252.7 257.9" class="pk l4"/>
<path d="M79.7 257.9L81.4 257.8L83.1 257.8L84.9 257.8L86.6 257.7L88.3 257.7L90.1 257.6L91.8 257.5L93.5 257.4L95.2 257.3L97 257.2L98.7 257L100.4 256.8L102.2 256.6L103.9 256.3L105.6 256L107.4 255.6L109.1 255.2L110.8 254.8L112.6 254.2L114.3 253.6L116 252.9L117.7 252L119.5 251.1L121.2 250.1L122.9 249L124.7 247.7L126.4 246.3L128.1 244.9L129.9 243.3L131.6 241.7L133.3 240L135 238.2L136.8 236.5L138.5 234.7L140.2 233L142 231.3L143.7 229.7L145.4 228.1L147.2 226.7L148.9 225.3L150.6 224.2L152.4 223.1L154.1 222.3L155.8 221.7L157.5 221.4L159.3 221.3L161 221.4L162.7 221.6L164.5 222L166.2 222.6L167.9 223.3L169.7 224.2L171.4 225.1L173.1 226.2L174.9 227.3L176.6 228.5L178.3 229.8L180 231.1L181.8 232.4L183.5 233.7L185.2 235L187 236.3L188.7 237.6L190.4 238.8L192.2 240L193.9 241.2L195.6 242.3L197.4 243.4L199.1 244.4L200.8 245.4L202.5 246.4L204.3 247.4L206 248.3L207.7 249.2L209.5 250.1L211.2 251L212.9 251.8L214.7 252.6L216.4 253.3L218.1 254L219.9 254.6L221.6 255.2L223.3 255.7L225 256.1L226.8 256.5L228.5 256.8L230.2 257L232 257.3L233.7 257.4L235.4 257.5L237.2 257.6" class="bl l5"/>
<path d="M29.5 257.9L31.2 257.9L32.9 257.9L34.7 257.9L36.4 257.9L38.1 257.9L39.9 257.9L41.6 257.9L43.3 257.9L45.1 257.9L46.8 257.9L48.5 257.9L50.2 257.9L52 257.9L53.7 257.9L55.4 257.9L57.2 257.9L58.9 257.9L60.6 257.9L62.4 257.9L64.1 257.9L65.8 257.9L67.6 257.9L69.3 257.9L71 257.9L72.7 257.9L74.5 257.9L76.2 257.9L77.9 257.9L79.7 257.9L81.4 257.9L83.1 257.9L84.9 257.9L86.6 257.8L88.3 257.8L90.1 257.8L91.8 257.8L93.5 257.7L95.2 257.7L97 257.6L98.7 257.5L100.4 257.4L102.2 257.3L103.9 257.2L105.6 257.1L107.4 256.9L109.1 256.8L110.8 256.6L112.6 256.3L114.3 256L116 255.7L117.7 255.4L119.5 255L121.2 254.5L122.9 254L124.7 253.4L126.4 252.8L128.1 252.1L129.9 251.3L131.6 250.5L133.3 249.7L135 248.8L136.8 247.9L138.5 247L140.2 246.1L142 245.2L143.7 244.3L145.4 243.5L147.2 242.7L148.9 241.9L150.6 241.2L152.4 240.6L154.1 240.1L155.8 239.6L157.5 239.3L159.3 239L161 239L162.7 239L164.5 239.1L166.2 239.4L167.9 239.8L169.7 240.2L171.4 240.8L173.1 241.4L174.9 242.1L176.6 242.8L178.3 243.6L180 244.4L181.8 245.1L183.5 245.9L185.2 246.7L187 247.5L188.7 248.2L190.4 248.9L192.2 249.6L193.9 250.3L195.6 250.9L197.4 251.5L199.1 252.1L200.8 252.6L202.5 253.2L204.3 253.7L206 254.3L207.7 254.7L209.5 255.2L211.2 255.6L212.9 256L214.7 256.4L216.4 256.7L218.1 257L219.9 257.2L221.6 257.4L223.3 257.5L225 257.6L226.8 257.7L228.5 257.8L230.2 257.8L232 257.8L233.7 257.9L235.4 257.9L237.2 257.9L238.9 257.9L240.6 257.9L242.3 257.9L244.1 257.9L245.8 257.9L247.5 257.9L249.3 257.9L251 257.9L252.7 257.9" class="gy l5 lt"/>
<path d="M79.7 257.8L81.4 257.8L83.1 257.8L84.9 257.8L86.6 257.7L88.3 257.6L90.1 257.6L91.8 257.5L93.5 257.4L95.2 257.3L97 257.2L98.7 257L100.4 256.8L102.2 256.6L103.9 256.4L105.6 256.1L107.4 255.8L109.1 255.5L110.8 255.1L112.6 254.6L114.3 254.1L116 253.5L117.7 252.8L119.5 252.1L121.2 251.2L122.9 250.3L124.7 249.3L126.4 248.2L128.1 247L129.9 245.7L131.6 244.4L133.3 243L135 241.6L136.8 240.2L138.5 238.8L140.2 237.3L142 235.9L143.7 234.6L145.4 233.3L147.2 232L148.9 230.8L150.6 229.8L152.4 228.8L154.1 228L155.8 227.3L157.5 226.8L159.3 226.5L161 226.3L162.7 226.4L164.5 226.6L166.2 227L167.9 227.5L169.7 228.2L171.4 229.1L173.1 230L174.9 231.1L176.6 232.2L178.3 233.4L180 234.6L181.8 235.9L183.5 237.1L185.2 238.3L187 239.6L188.7 240.8L190.4 241.9L192.2 243L193.9 244.1L195.6 245.2L197.4 246.2L199.1 247.1L200.8 248.1L202.5 249L204.3 249.8L206 250.7L207.7 251.5L209.5 252.3L211.2 253.1L212.9 253.8L214.7 254.5L216.4 255.1L218.1 255.6L219.9 256.1L221.6 256.5L223.3 256.8L225 257.1L226.8 257.3L228.5 257.4L230.2 257.6L232 257.7L233.7 257.7L235.4 257.8L237.2 257.8" class="or l5"/>
<path d="M29.5 257.9L31.2 257.9L32.9 257.9L34.7 257.9L36.4 257.9L38.1 257.9L39.9 257.9L41.6 257.9L43.3 257.9L45.1 257.9L46.8 257.9L48.5 257.9L50.2 257.9L52 257.9L53.7 257.9L55.4 257.9L57.2 257.9L58.9 257.9L60.6 257.9L62.4 257.9L64.1 257.9L65.8 257.9L67.6 257.9L69.3 257.9L71 257.9L72.7 257.9L74.5 257.9L76.2 257.9L77.9 257.9L79.7 257.8L81.4 257.8L83.1 257.8L84.9 257.8L86.6 257.8L88.3 257.7L90.1 257.7L91.8 257.7L93.5 257.6L95.2 257.6L97 257.5L98.7 257.5L100.4 257.4L102.2 257.3L103.9 257.3L105.6 257.2L107.4 257.1L109.1 256.9L110.8 256.8L112.6 256.6L114.3 256.5L116 256.3L117.7 256.1L119.5 255.8L121.2 255.6L122.9 255.3L124.7 255L126.4 254.7L128.1 254.3L129.9 253.9L131.6 253.5L133.3 253.1L135 252.7L136.8 252.3L138.5 251.8L140.2 251.4L142 250.9L143.7 250.5L145.4 250L147.2 249.6L148.9 249.2L150.6 248.8L152.4 248.4L154.1 248.1L155.8 247.7L157.5 247.4L159.3 247.2L161 246.9L162.7 246.8L164.5 246.6L166.2 246.6L167.9 246.5L169.7 246.6L171.4 246.6L173.1 246.7L174.9 246.9L176.6 247.1L178.3 247.4L180 247.6L181.8 247.9L183.5 248.3L185.2 248.6L187 249L188.7 249.4L190.4 249.7L192.2 250.1L193.9 250.5L195.6 250.9L197.4 251.3L199.1 251.7L200.8 252L202.5 252.4L204.3 252.7L206 253.1L207.7 253.4L209.5 253.7L211.2 254L212.9 254.3L214.7 254.6L216.4 254.9L218.1 255.1L219.9 255.4L221.6 255.7L223.3 255.9L225 256.1L226.8 256.4L228.5 256.6L230.2 256.8L232 257L233.7 257.1L235.4 257.3L237.2 257.4L238.9 257.5L240.6 257.6L242.3 257.6L244.1 257.7L245.8 257.8L247.5 257.8L249.3 257.8L251 257.8L252.7 257.9" class="pk l5"/>
<path d="M29.5 257.9L31.2 257.9L32.9 257.9L34.7 257.9L36.4 257.9L38.1 257.9L39.9 257.9L41.6 257.9L43.3 257.9L45.1 257.9L46.8 257.9L48.5 257.9L50.2 257.9L52 257.9L53.7 257.9L55.4 257.9L57.2 257.9L58.9 257.9L60.6 257.9L62.4 257.9L64.1 257.9L65.8 257.9L67.6 257.9L69.3 257.9L71 257.9L72.7 257.9L74.5 257.9L76.2 257.9L77.9 257.9L79.7 257.9L81.4 257.9L83.1 257.9L84.9 257.9L86.6 257.9L88.3 257.8L90.1 257.8L91.8 257.8L93.5 257.8L95.2 257.7L97 257.7L98.7 257.7L100.4 257.6L102.2 257.5L103.9 257.5L105.6 257.4L107.4 257.3L109.1 257.1L110.8 257L112.6 256.8L114.3 256.7L116 256.5L117.7 256.2L119.5 255.9L121.2 255.6L122.9 255.3L124.7 254.9L126.4 254.5L128.1 254L129.9 253.5L131.6 253L133.3 252.4L135 251.8L136.8 251.2L138.5 250.6L140.2 250L142 249.4L143.7 248.9L145.4 248.3L147.2 247.8L148.9 247.2L150.6 246.8L152.4 246.4L154.1 246L155.8 245.7L157.5 245.5L159.3 245.3L161 245.3L162.7 245.3L164.5 245.4L166.2 245.6L167.9 245.8L169.7 246.1L171.4 246.5L173.1 246.9L174.9 247.4L176.6 247.8L178.3 248.4L180 248.9L181.8 249.4L183.5 249.9L185.2 250.4L187 250.9L188.7 251.4L190.4 251.9L192.2 252.4L193.9 252.8L195.6 253.2L197.4 253.6L199.1 254L200.8 254.4L202.5 254.8L204.3 255.1L206 255.5L207.7 255.8L209.5 256.1L211.2 256.4L212.9 256.7L214.7 256.9L216.4 257.1L218.1 257.3L219.9 257.4L221.6 257.5L223.3 257.6L225 257.7L226.8 257.8L228.5 257.8L230.2 257.8L232 257.9L233.7 257.9L235.4 257.9L237.2 257.9L238.9 257.9L240.6 257.9L242.3 257.9L244.1 257.9L245.8 257.9L247.5 257.9L249.3 257.9L251 257.9L252.7 257.9" class="gy l6 lt"/>
<path d="M79.7 257.9L81.4 257.9L83.1 257.9L84.9 257.8L86.6 257.8L88.3 257.8L90.1 257.7L91.8 257.7L93.5 257.6L95.2 257.6L97 257.5L98.7 257.4L100.4 257.3L102.2 257.2L103.9 257.1L105.6 256.9L107.4 256.7L109.1 256.5L110.8 256.3L112.6 256L114.3 255.7L116 255.4L117.7 255L119.5 254.6L121.2 254.1L122.9 253.5L124.7 252.9L126.4 252.2L128.1 251.5L129.9 250.7L131.6 249.8L133.3 249L135 248L136.8 247.1L138.5 246.1L140.2 245.1L142 244.1L143.7 243.2L145.4 242.3L147.2 241.4L148.9 240.5L150.6 239.7L152.4 238.9L154.1 238.3L155.8 237.7L157.5 237.2L159.3 236.8L161 236.6L162.7 236.4L164.5 236.4L166.2 236.6L167.9 236.8L169.7 237.1L171.4 237.6L173.1 238.1L174.9 238.8L176.6 239.5L178.3 240.2L180 241L181.8 241.8L183.5 242.7L185.2 243.5L187 244.4L188.7 245.2L190.4 246L192.2 246.8L193.9 247.6L195.6 248.3L197.4 249L199.1 249.7L200.8 250.4L202.5 251L204.3 251.7L206 252.3L207.7 252.8L209.5 253.4L211.2 254L212.9 254.5L214.7 255L216.4 255.4L218.1 255.9L219.9 256.2L221.6 256.6L223.3 256.8L225 257.1L226.8 257.3L228.5 257.4L230.2 257.6L232 257.7L233.7 257.7L235.4 257.8L237.2 257.8" class="or l6"/>
<path d="M29.5 257.9L31.2 257.9L32.9 257.9L34.7 257.9L36.4 257.9L38.1 257.9L39.9 257.9L41.6 257.9L43.3 257.9L45.1 257.9L46.8 257.9L48.5 257.9L50.2 257.9L52 257.9L53.7 257.9L55.4 257.9L57.2 257.9L58.9 257.9L60.6 257.9L62.4 257.9L64.1 257.9L65.8 257.9L67.6 257.9L69.3 257.9L71 257.9L72.7 257.9L74.5 257.9L76.2 257.8L77.9 257.8L79.7 257.8L81.4 257.8L83.1 257.8L84.9 257.7L86.6 257.7L88.3 257.7L90.1 257.6L91.8 257.6L93.5 257.5L95.2 257.5L97 257.4L98.7 257.3L100.4 257.2L102.2 257.1L103.9 257L105.6 256.8L107.4 256.7L109.1 256.5L110.8 256.3L112.6 256.1L114.3 255.9L116 255.6L117.7 255.3L119.5 255L121.2 254.6L122.9 254.2L124.7 253.8L126.4 253.4L128.1 252.9L129.9 252.5L131.6 251.9L133.3 251.4L135 250.9L136.8 250.3L138.5 249.8L140.2 249.2L142 248.7L143.7 248.2L145.4 247.6L147.2 247.1L148.9 246.6L150.6 246.2L152.4 245.8L154.1 245.4L155.8 245L157.5 244.7L159.3 244.4L161 244.2L162.7 244.1L164.5 244L166.2 244L167.9 244L169.7 244.1L171.4 244.3L173.1 244.5L174.9 244.8L176.6 245.1L178.3 245.4L180 245.8L181.8 246.2L183.5 246.7L185.2 247.1L187 247.6L188.7 248L190.4 248.5L192.2 249L193.9 249.5L195.6 249.9L197.4 250.4L199.1 250.8L200.8 251.3L202.5 251.7L204.3 252.1L206 252.5L207.7 252.9L209.5 253.2L211.2 253.6L212.9 253.9L214.7 254.3L216.4 254.6L218.1 254.9L219.9 255.2L221.6 255.5L223.3 255.8L225 256.1L226.8 256.3L228.5 256.6L230.2 256.8L232 257L233.7 257.1L235.4 257.3L237.2 257.4L238.9 257.5L240.6 257.6L242.3 257.7L244.1 257.7L245.8 257.8L247.5 257.8L249.3 257.8L251 257.9L252.7 257.9" class="pk l6"/>
<path d="M95.2 257.1L97 257L98.7 256.8L100.4 256.6L102.2 256.4L103.9 256.2L105.6 255.9L107.4 255.6L109.1 255.2L110.8 254.8L112.6 254.4L114.3 253.8L116 253.3L117.7 252.6L119.5 251.9L121.2 251.1L122.9 250.3L124.7 249.3L126.4 248.4L128.1 247.3L129.9 246.2L131.6 245.1L133.3 243.9L135 242.7L136.8 241.5L138.5 240.3L140.2 239.1L142 238L143.7 236.9L145.4 235.8L147.2 234.8L148.9 233.9L150.6 233L152.4 232.2L154.1 231.6L155.8 231L157.5 230.6L159.3 230.4L161 230.2L162.7 230.3L164.5 230.5L166.2 230.8L167.9 231.3L169.7 231.9L171.4 232.7L173.1 233.5L174.9 234.4L176.6 235.4L178.3 236.4L180 237.5L181.8 238.6L183.5 239.7L185.2 240.8L187 241.8L188.7 242.9L190.4 243.9L192.2 244.9L193.9 245.8L195.6 246.7L197.4 247.6L199.1 248.5L200.8 249.3L202.5 250.1L204.3 250.8L206 251.6L207.7 252.3L209.5 253L211.2 253.7L212.9 254.3L214.7 254.9L216.4 255.4L218.1 255.9L219.9 256.3L221.6 256.6" class="bk thin"/>
<line x1="29.8" y1="257.6" x2="29.8" y2="182.1" class="ax"/>
<line x1="26.3" y1="257.6" x2="29.8" y2="257.6" class="ax"/>
<text transform="translate(22.4 257.6) rotate(-90)" class="tk rt" text-anchor="middle">0.0</text>
<line x1="26.3" y1="232.4" x2="29.8" y2="232.4" class="ax"/>
<text transform="translate(22.4 232.4) rotate(-90)" class="tk rt" text-anchor="middle">0.2</text>
<line x1="26.3" y1="207.4" x2="29.8" y2="207.4" class="ax"/>
<text transform="translate(22.4 207.4) rotate(-90)" class="tk rt" text-anchor="middle">0.4</text>
<line x1="26.3" y1="182.1" x2="29.8" y2="182.1" class="ax"/>
<text transform="translate(22.4 182.1) rotate(-90)" class="tk rt" text-anchor="middle">0.6</text>
<line x1="38.1" y1="261.8" x2="211.6" y2="261.8" class="ax"/>
<line x1="38.1" y1="261.8" x2="38.1" y2="265.1" class="ax"/>
<text x="38.1" y="273" class="tk" text-anchor="middle">-1</text>
<line x1="81.5" y1="261.8" x2="81.5" y2="265.1" class="ax"/>
<text x="81.5" y="273" class="tk" text-anchor="middle">0</text>
<line x1="124.8" y1="261.8" x2="124.8" y2="265.1" class="ax"/>
<text x="124.8" y="273" class="tk" text-anchor="middle">1</text>
<line x1="168.2" y1="261.8" x2="168.2" y2="265.1" class="ax"/>
<text x="168.2" y="273" class="tk" text-anchor="middle">2</text>
<line x1="211.6" y1="261.8" x2="211.6" y2="265.1" class="ax"/>
<text x="211.6" y="273" class="tk" text-anchor="middle">3</text>
<text x="141.8" y="284.2" class="tk" text-anchor="middle">Distance between two contiguous points</text>
<text transform="translate(9.3 210.9) rotate(-90)" class="tk rt" text-anchor="middle">Density</text>
<text x="40.4" y="185.8" class="let">C</text>
<path d="M126.2 257.1L129.9 257L133.7 257L137.5 257L141.3 256.9L145.1 256.9L148.9 256.8L152.7 256.8L156.5 256.7L160.3 256.7L164.1 256.6L167.9 256.6L171.7 256.6L175.5 256.7L179.3 256.7L183 256.7L186.8 256.8L190.6 256.8L194.4 256.9L198.2 257L202 257L205.8 257L209.6 257.1L213.4 257.1L217.2 257.1" class="bl"/>
<line x1="228.2" y1="172.6" x2="239.5" y2="172.6" class="lg gy"/>
<line x1="265.8" y1="172.6" x2="277.1" y2="172.6" class="lg pk"/>
<line x1="303.5" y1="172.6" x2="314.8" y2="172.6" class="lg bl"/>
<line x1="341.1" y1="172.6" x2="352.4" y2="172.6" class="lg gy l2"/>
<line x1="378.8" y1="172.6" x2="390.1" y2="172.6" class="lg pk l2"/>
<line x1="416.4" y1="172.6" x2="427.8" y2="172.6" class="lg bl l2"/>
<text x="245.2" y="175.3" class="t1">Close</text>
<text x="282.8" y="175.3" class="t1">Crani</text>
<text x="320.5" y="175.3" class="t1">End</text>
<text x="358.1" y="175.3" class="t1">MRI</text>
<text x="395.8" y="175.3" class="t1">Prepa</text>
<text x="433.4" y="175.3" class="t1">Tr</text>
<line x1="228.2" y1="189.4" x2="239.5" y2="189.4" class="lg gy"/>
<line x1="268.9" y1="189.4" x2="280.2" y2="189.4" class="lg pk"/>
<line x1="309.6" y1="189.4" x2="320.9" y2="189.4" class="lg gy l2"/>
<line x1="350.3" y1="189.4" x2="361.6" y2="189.4" class="lg pk l2"/>
<text x="245.2" y="192.3" class="t2">Anaes</text>
<text x="285.9" y="192.3" class="t2">Assis</text>
<text x="326.6" y="192.3" class="t2">Scrub</text>
<text x="367.3" y="192.3" class="t2">Surge</text>
<line x1="228.6" y1="205.3" x2="239.1" y2="205.3" class="lg bl"/>
<line x1="280.9" y1="205.3" x2="291.4" y2="205.3" class="lg bl l2"/>
<line x1="333.3" y1="205.3" x2="343.8" y2="205.3" class="lg bl l3"/>
<line x1="385.6" y1="205.3" x2="396.1" y2="205.3" class="lg bl l4"/>
<line x1="438" y1="205.3" x2="448.5" y2="205.3" class="lg bl l5"/>
<line x1="490.4" y1="205.3" x2="500.9" y2="205.3" class="lg bl l6"/>
<text x="243.6" y="207.8" class="t3">Close_Anaes</text>
<text x="295.9" y="207.8" class="t3">Prepa_Anaes</text>
<text x="348.3" y="207.8" class="t3">End_Assis</text>
<text x="400.6" y="207.8" class="t3">Close_Scrub</text>
<text x="453" y="207.8" class="t3">Prepa_Scrub</text>
<text x="505.4" y="207.8" class="t3">End_Surge</text>
<line x1="228.6" y1="219" x2="239.1" y2="219" class="lg gy"/>
<line x1="280.9" y1="219" x2="291.4" y2="219" class="lg gy l2"/>
<line x1="333.3" y1="219" x2="343.8" y2="219" class="lg gy l3"/>
<line x1="385.6" y1="219" x2="396.1" y2="219" class="lg gy l4"/>
<line x1="438" y1="219" x2="448.5" y2="219" class="lg gy l5"/>
<line x1="490.4" y1="219" x2="500.9" y2="219" class="lg gy l6"/>
<text x="243.6" y="221.5" class="t3">Crani_Anaes</text>
<text x="295.9" y="221.5" class="t3">Tr_Anaes</text>
<text x="348.3" y="221.5" class="t3">MRI_Assis</text>
<text x="400.6" y="221.5" class="t3">Crani_Scrub</text>
<text x="453" y="221.5" class="t3">Tr_Scrub</text>
<text x="505.4" y="221.5" class="t3">MRI_Surge</text>
<line x1="228.6" y1="232.8" x2="239.1" y2="232.8" class="lg or"/>
<line x1="280.9" y1="232.8" x2="291.4" y2="232.8" class="lg or l2"/>
<line x1="333.3" y1="232.8" x2="343.8" y2="232.8" class="lg or l3"/>
<line x1="385.6" y1="232.8" x2="396.1" y2="232.8" class="lg or l4"/>
<line x1="438" y1="232.8" x2="448.5" y2="232.8" class="lg or l5"/>
<line x1="490.4" y1="232.8" x2="500.9" y2="232.8" class="lg or l6"/>
<text x="243.6" y="235.3" class="t3">End_Anaes</text>
<text x="295.9" y="235.3" class="t3">Close_Assis</text>
<text x="348.3" y="235.3" class="t3">Prepa_Assis</text>
<text x="400.6" y="235.3" class="t3">End_Scrub</text>
<text x="453" y="235.3" class="t3">Close_Surge</text>
<text x="505.4" y="235.3" class="t3">Prepa_Surge</text>
<line x1="228.6" y1="246.3" x2="239.1" y2="246.3" class="lg pk"/>
<line x1="280.9" y1="246.3" x2="291.4" y2="246.3" class="lg pk l2"/>
<line x1="333.3" y1="246.3" x2="343.8" y2="246.3" class="lg pk l3"/>
<line x1="385.6" y1="246.3" x2="396.1" y2="246.3" class="lg pk l4"/>
<line x1="438" y1="246.3" x2="448.5" y2="246.3" class="lg pk l5"/>
<line x1="490.4" y1="246.3" x2="500.9" y2="246.3" class="lg pk l6"/>
<text x="243.6" y="248.8" class="t3">MRI_Anaes</text>
<text x="295.9" y="248.8" class="t3">Crani_Assis</text>
<text x="348.3" y="248.8" class="t3">Tr_Assis</text>
<text x="400.6" y="248.8" class="t3">MRI_Scrub</text>
<text x="453" y="248.8" class="t3">Crani_Surge</text>
<text x="505.4" y="248.8" class="t3">Tr_Surge</text>
</svg></body></html>
